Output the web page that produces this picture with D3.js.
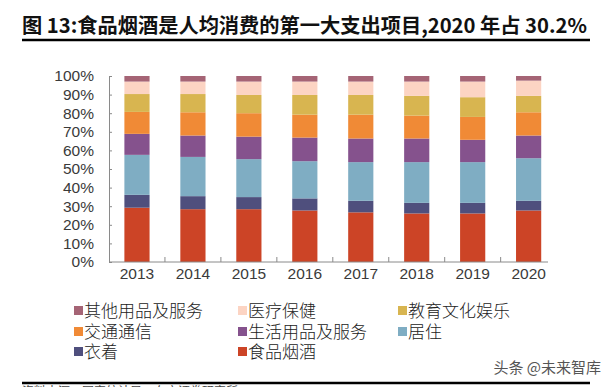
<!doctype html>
<html lang="zh">
<head>
  <meta charset="utf-8">
  <title>人均消费支出结构</title>
  <style>
    * { margin: 0; padding: 0; box-sizing: border-box; }
    body { background: #fff; }
    #chart { width: 615px; height: 387px; overflow: hidden; }
    svg { display: block; }
  </style>
</head>
<body>
  <div id="chart"></div>
  <script src="https://cdn.jsdelivr.net/npm/d3@7"></script>
  <script>
    // share of per-capita consumption, %, stacked bottom -> top
    const years = ['2013','2014','2015','2016','2017','2018','2019','2020'];

    const food      = [29.2, 28.4, 28.4, 27.7, 26.7, 26.1, 26.1, 27.7];
    const clothing  = [6.9, 7.0, 6.5, 6.5, 6.2, 5.7, 5.7, 5.2];
    const housing   = [21.5, 21.1, 20.4, 20.0, 20.8, 21.9, 21.9, 22.9];
    const household = [11.3, 11.5, 12.1, 12.7, 12.7, 12.7, 12.0, 12.2];
    const transport = [11.8, 12.5, 12.6, 12.3, 12.8, 12.3, 12.3, 12.5];
    const education = [9.6, 9.8, 9.8, 10.6, 10.6, 10.6, 10.6, 8.8];
    const medical   = [6.7, 6.7, 7.2, 7.2, 7.2, 7.7, 8.4, 8.2];
    const other     = [3.0, 3.0, 3.0, 3.0, 3.0, 3.0, 3.0, 2.5];

    const yTicks = [0,10,20,30,40,50,60,70,80,90,100];

    const series = [
      {key:'food',      name:'食品烟酒',       color:'#CC4426', values:food},
      {key:'clothing',  name:'衣着',           color:'#4F4F7D', values:clothing},
      {key:'housing',   name:'居住',           color:'#7FADC3', values:housing},
      {key:'household', name:'生活用品及服务', color:'#85528D', values:household},
      {key:'transport', name:'交通通信',       color:'#F08A36', values:transport},
      {key:'education', name:'教育文化娱乐',   color:'#D8B550', values:education},
      {key:'medical',   name:'医疗保健',       color:'#FCD4C3', values:medical},
      {key:'other',     name:'其他用品及服务', color:'#A56475', values:other}
    ];

    // legend reading order (rows of three)
    const legendOrder = ['other','medical','education','transport','household','housing','clothing','food'];

    const W = 615, H = 387;
    const svg = d3.select('#chart').append('svg')
      .attr('width', W)
      .attr('height', H)

    // title
    svg.append('text')
      .attr('x', 22)
      .attr('y', 33)
      .attr('font-family', '"Noto Sans CJK SC", sans-serif')
      .attr('font-weight', 700)
      .attr('font-size', 20)
      .attr('fill', '#111')
      .attr('textLength', 565)
      .attr('lengthAdjust', 'spacingAndGlyphs')
      .text('图 13:食品烟酒是人均消费的第一大支出项目,2020 年占 30.2%');

    svg.append('line')
      .attr('x1', 22).attr('x2', 590)
      .attr('y1', 40).attr('y2', 40)
      .attr('stroke', '#000').attr('stroke-width', 2.5)

    const rows = years.map((y, i) => {
      const r = {year: y};
      series.forEach(s => r[s.key] = s.values[i]);
      return r;
    });

    const stacked = d3.stack().keys(series.map(s => s.key))(rows);

    const x = d3.scaleBand()
      .domain(years)
      .range([109, 556.6])
      .paddingInner(0.55)
      .paddingOuter(0.275)

    const y = d3.scaleLinear()
      .domain([0, 100])
      .range([262, 76])

    const colorOf = d3.scaleOrdinal()
      .domain(series.map(s => s.key))
      .range(series.map(s => s.color))

    svg.append('g')
      .selectAll('g')
      .data(stacked)
      .join('g')
      .attr('fill', d => colorOf(d.key))
      .selectAll('rect')
      .data(d => d)
      .join('rect')
      .attr('x', d => x(d.data.year))
      .attr('width', x.bandwidth())
      .attr('y', d => y(d[1]))
      .attr('height', d => y(d[0]) - y(d[1]))

    const axisColor = '#8a8a8a';
    const labelFont = '"Liberation Sans", Arial, sans-serif';

    // y axis
    const gy = svg.append('g')
      .attr('transform', 'translate(109,0)')
      .call(d3.axisLeft(y).tickValues(yTicks).tickFormat(d => d + '%').tickSize(-3).tickPadding(15))
    gy.select('.domain').attr('stroke', axisColor)
    gy.selectAll('.tick line').attr('stroke', axisColor)
    gy.selectAll('.tick text')
      .attr('font-family', labelFont)
      .attr('font-size', 15.5)
      .attr('fill', '#3a3a3a')

    // x axis: labels centred, tick marks between categories
    const gx = svg.append('g')
      .attr('transform', 'translate(0,262)')
      .call(d3.axisBottom(x).tickSize(0).tickPadding(6))
    gx.select('.domain').remove()
    gx.selectAll('.tick text')
      .attr('font-family', labelFont)
      .attr('font-size', 15.5)
      .attr('fill', '#3a3a3a')

    svg.append('line')
      .attr('x1', 109).attr('x2', 548)
      .attr('y1', 262).attr('y2', 262)
      .attr('stroke', axisColor)

    const step = x.step();
    const x0 = x.range()[0];
    svg.append('g')
      .selectAll('line')
      .data(years.slice(1))
      .join('line')
      .attr('x1', (d, i) => x0 + (i + 1) * step)
      .attr('x2', (d, i) => x0 + (i + 1) * step)
      .attr('y1', 262).attr('y2', 257)
      .attr('stroke', axisColor)

    // legend
    const legendCols = [74, 238, 398];
    const legendRows = [306, 327, 347];
    const lg = svg.append('g')
      .selectAll('g')
      .data(legendOrder.map(k => series.find(s => s.key === k)))
      .join('g')
      .attr('transform', (d, i) => `translate(${legendCols[i % 3]},${legendRows[Math.floor(i / 3)]})`)
    lg.append('rect')
      .attr('width', 9).attr('height', 9)
      .attr('fill', d => d.color)
    lg.append('text')
      .attr('x', 10)
      .attr('y', 11)
      .attr('font-family', '"Noto Sans CJK SC", sans-serif')
      .attr('font-weight', 300)
      .attr('font-size', 17)
      .attr('fill', '#222')
      .text(d => d.name)

    // watermark
    svg.append('text')
      .attr('x', 601)
      .attr('y', 373)
      .attr('text-anchor', 'end')
      .attr('font-family', '"Noto Sans CJK SC", sans-serif')
      .attr('font-size', 15)
      .attr('fill', '#555')
      .text('头条 @未来智库')

    svg.append('line')
      .attr('x1', 22).attr('x2', 590)
      .attr('y1', 383).attr('y2', 383)
      .attr('stroke', '#000').attr('stroke-width', 2.5)

    svg.append('text')
      .attr('x', 22)
      .attr('y', 396)
      .attr('font-family', '"Noto Sans CJK SC", sans-serif')
      .attr('font-size', 12)
      .attr('fill', '#444')
      .text('资料来源：国家统计局，东方证券研究所')
  </script>
</body>
</html>
